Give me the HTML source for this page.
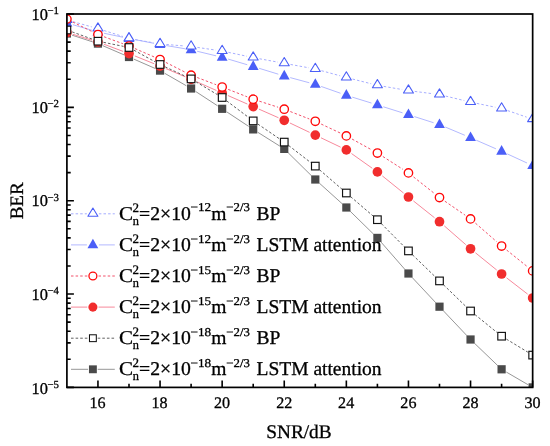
<!DOCTYPE html><html><head><meta charset="utf-8"><style>html,body{margin:0;padding:0;background:#fff;}svg{display:block;}text{text-rendering:geometricPrecision;font-family:"Liberation Serif","Times New Roman",serif;fill:#000;stroke:#000;stroke-width:0.3px;}</style></head><body>
<svg width="550" height="446" viewBox="0 0 550 446">
<rect width="550" height="446" fill="#fff"/>
<defs><clipPath id="pc"><rect x="66.9" y="14" width="465.75" height="373.4"/></clipPath></defs>
<path d="M97.95 387.4V380.6M129 387.4V383.8M160.05 387.4V380.6M191.1 387.4V383.8M222.15 387.4V380.6M253.2 387.4V383.8M284.25 387.4V380.6M315.3 387.4V383.8M346.35 387.4V380.6M377.4 387.4V383.8M408.45 387.4V380.6M439.5 387.4V383.8M470.55 387.4V380.6M501.6 387.4V383.8M532.65 387.4V380.6M66.9 79.25H70.7M66.9 62.81H70.7M66.9 51.15H70.7M66.9 42.1H70.7M66.9 34.71H70.7M66.9 28.46H70.7M66.9 23.05H70.7M66.9 18.27H70.7M66.9 172.6H70.7M66.9 156.16H70.7M66.9 144.5H70.7M66.9 135.45H70.7M66.9 128.06H70.7M66.9 121.81H70.7M66.9 116.4H70.7M66.9 111.62H70.7M66.9 265.95H70.7M66.9 249.51H70.7M66.9 237.85H70.7M66.9 228.8H70.7M66.9 221.41H70.7M66.9 215.16H70.7M66.9 209.75H70.7M66.9 204.97H70.7M66.9 359.3H70.7M66.9 342.86H70.7M66.9 331.2H70.7M66.9 322.15H70.7M66.9 314.76H70.7M66.9 308.51H70.7M66.9 303.1H70.7M66.9 298.32H70.7M66.9 14H73.9M66.9 107.35H73.9M66.9 200.7H73.9M66.9 294.05H73.9M66.9 387.4H73.9" stroke="#000" stroke-width="1.6" fill="none"/>
<g clip-path="url(#pc)">
<path d="M72.04 35.17L92.81 41.93M102.91 45.74L124.04 54.86M133.95 59.17L155.1 68.43M164.73 73.3L186.42 85.8M195.62 91.45L217.63 105.85M226.65 111.79L248.7 126.41M257.77 132.27L279.68 146.03M288.1 152.69L311.45 175.71M319.31 183.12L342.34 203.88M350.21 211.28L373.54 234.12M380.95 241.97L404.9 269.43M412.14 277.44L435.81 302.76M443.21 310.62L466.84 335.58M474.45 343.24L497.7 365.56M506.27 372.02L527.98 384.68" fill="none" stroke="#979797" stroke-width="1.0"/>
<path d="M72.92 34.34L91.93 40.16M103.85 44.2L123.1 51.4M134.84 55.95L154.21 63.75M165.85 68.56L185.3 76.84M196.86 81.84L216.39 90.46M227.92 95.53L247.43 104.07M258.96 109.14L278.49 117.76M289.94 123.01L309.61 132.39M320.99 137.81L340.66 147.19M351.49 153.54L372.26 168.26M382.3 175.86L403.55 193.04M413.38 200.92L434.57 217.78M444.25 225.84L465.8 244.66M475.44 252.77L496.71 270.03M506.58 277.85L527.67 294.15" fill="none" stroke="#f7899b" stroke-width="1.0"/>
<path d="M72.85 24.73L92 30.27M104.02 33.27L122.93 37.23M135.09 39.68L153.96 43.32M166.16 45.54L184.99 48.76M197.13 51.26L216.12 55.84M228.09 59.06L247.26 64.74M259.13 68.31L278.32 74.19M290.23 77.62L309.32 82.78M321.15 86.45L340.5 93.25M352.27 97.13L371.48 103.07M383.31 106.77L402.54 112.83M414.36 116.58L433.59 122.72M445.21 127.01L464.84 135.29M476.23 140.19L495.92 148.81M507.23 153.89L527.02 163.01" fill="none" stroke="#b3b9ff" stroke-width="1.0"/>
<path d="M73.07 21.71L91.78 26.89M104.05 30.53L122.9 36.47M135.3 39.54L153.75 42.86M166.43 44.51L184.72 45.99M197.43 47.42L215.82 50.08M228.41 52.33L246.94 56.27M259.49 58.76L277.96 62.14M290.54 64.46L309.01 67.84M321.47 70.69L340.18 75.81M352.56 79.06L371.19 83.74M383.71 86.38L402.14 89.52M414.8 91.42L433.15 93.78M445.72 96.1L464.33 100.6M476.82 103.39L495.33 107.21M507.65 110.59L526.6 117.11" fill="none" stroke="#a6adff" stroke-width="1.0" stroke-dasharray="2.5 2.1"/>
<path d="M72.72 21.99L92.13 31.61M104.05 36.76L122.9 43.74M134.96 48.59L154.09 56.91M165.85 62.43L185.3 72.27M197.18 77.51L216.07 84.69M228.2 89.38L247.15 96.82M259.39 101.19L278.06 107.21M290.31 111.56L309.24 118.94M321.18 124.07L340.47 133.13M352.04 139.04L371.71 149.86M382.87 156.51L402.98 169.39M413.54 176.94L434.41 193.46M444.85 201.19L465.2 215.21M475.45 223.17L496.7 241.73M506.67 250.07L527.58 266.83" fill="none" stroke="#f2506a" stroke-width="1.0" stroke-dasharray="2.5 2.1"/>
<path d="M72.17 31.9L92.68 39.3M103.44 42.31L123.51 46.39M133.91 50.19L155.14 61.81M165.13 66.86L186.02 76.54M195.9 81.78L217.35 94.62M226.62 100.87L248.73 117.53M257.82 124.06L279.63 138.94M288.68 145.52L310.87 162.68M319.53 169.77L342.12 189.33M350.6 196.65L373.15 216.05M381.35 223.67L404.5 246.93M412.48 254.79L435.47 277.01M443.52 284.8L466.53 307.1M474.9 314.53L497.25 332.67M506.38 339.11L527.87 352.19" fill="none" stroke="#626262" stroke-width="1.0" stroke-dasharray="2.6 2.0"/>
<rect x="62.8" y="29.4" width="8.2" height="8.2" fill="#4a4a4a"/>
<rect x="93.85" y="39.5" width="8.2" height="8.2" fill="#4a4a4a"/>
<rect x="124.9" y="52.9" width="8.2" height="8.2" fill="#4a4a4a"/>
<rect x="155.95" y="66.5" width="8.2" height="8.2" fill="#4a4a4a"/>
<rect x="187" y="84.4" width="8.2" height="8.2" fill="#4a4a4a"/>
<rect x="218.05" y="104.7" width="8.2" height="8.2" fill="#4a4a4a"/>
<rect x="249.1" y="125.3" width="8.2" height="8.2" fill="#4a4a4a"/>
<rect x="280.15" y="144.8" width="8.2" height="8.2" fill="#4a4a4a"/>
<rect x="311.2" y="175.4" width="8.2" height="8.2" fill="#4a4a4a"/>
<rect x="342.25" y="203.4" width="8.2" height="8.2" fill="#4a4a4a"/>
<rect x="373.3" y="233.8" width="8.2" height="8.2" fill="#4a4a4a"/>
<rect x="404.35" y="269.4" width="8.2" height="8.2" fill="#4a4a4a"/>
<rect x="435.4" y="302.6" width="8.2" height="8.2" fill="#4a4a4a"/>
<rect x="466.45" y="335.4" width="8.2" height="8.2" fill="#4a4a4a"/>
<rect x="497.5" y="365.2" width="8.2" height="8.2" fill="#4a4a4a"/>
<rect x="528.55" y="383.3" width="8.2" height="8.2" fill="#4a4a4a"/>
<circle cx="66.9" cy="32.5" r="4.85" fill="#f12d2d"/>
<circle cx="97.95" cy="42" r="4.85" fill="#f12d2d"/>
<circle cx="129" cy="53.6" r="4.85" fill="#f12d2d"/>
<circle cx="160.05" cy="66.1" r="4.85" fill="#f12d2d"/>
<circle cx="191.1" cy="79.3" r="4.85" fill="#f12d2d"/>
<circle cx="222.15" cy="93" r="4.85" fill="#f12d2d"/>
<circle cx="253.2" cy="106.6" r="4.85" fill="#f12d2d"/>
<circle cx="284.25" cy="120.3" r="4.85" fill="#f12d2d"/>
<circle cx="315.3" cy="135.1" r="4.85" fill="#f12d2d"/>
<circle cx="346.35" cy="149.9" r="4.85" fill="#f12d2d"/>
<circle cx="377.4" cy="171.9" r="4.85" fill="#f12d2d"/>
<circle cx="408.45" cy="197" r="4.85" fill="#f12d2d"/>
<circle cx="439.5" cy="221.7" r="4.85" fill="#f12d2d"/>
<circle cx="470.55" cy="248.8" r="4.85" fill="#f12d2d"/>
<circle cx="501.6" cy="274" r="4.85" fill="#f12d2d"/>
<circle cx="532.65" cy="298" r="4.85" fill="#f12d2d"/>
<path d="M66.9 16.8L72.3 26.4L61.5 26.4Z" fill="#4b5ff7"/>
<path d="M97.95 25.8L103.35 35.4L92.55 35.4Z" fill="#4b5ff7"/>
<path d="M129 32.3L134.4 41.9L123.6 41.9Z" fill="#4b5ff7"/>
<path d="M160.05 38.3L165.45 47.9L154.65 47.9Z" fill="#4b5ff7"/>
<path d="M191.1 43.6L196.5 53.2L185.7 53.2Z" fill="#4b5ff7"/>
<path d="M222.15 51.1L227.55 60.7L216.75 60.7Z" fill="#4b5ff7"/>
<path d="M253.2 60.3L258.6 69.9L247.8 69.9Z" fill="#4b5ff7"/>
<path d="M284.25 69.8L289.65 79.4L278.85 79.4Z" fill="#4b5ff7"/>
<path d="M315.3 78.2L320.7 87.8L309.9 87.8Z" fill="#4b5ff7"/>
<path d="M346.35 89.1L351.75 98.7L340.95 98.7Z" fill="#4b5ff7"/>
<path d="M377.4 98.7L382.8 108.3L372 108.3Z" fill="#4b5ff7"/>
<path d="M408.45 108.5L413.85 118.1L403.05 118.1Z" fill="#4b5ff7"/>
<path d="M439.5 118.4L444.9 128L434.1 128Z" fill="#4b5ff7"/>
<path d="M470.55 131.5L475.95 141.1L465.15 141.1Z" fill="#4b5ff7"/>
<path d="M501.6 145.1L507 154.7L496.2 154.7Z" fill="#4b5ff7"/>
<path d="M532.65 159.4L538.05 169L527.25 169Z" fill="#4b5ff7"/>
<path d="M66.9 14.25L71.9 22.45L61.9 22.45Z" fill="#fff" stroke="#4b5ff7" stroke-width="1.1" stroke-linejoin="round"/>
<path d="M97.95 22.85L102.95 31.05L92.95 31.05Z" fill="#fff" stroke="#4b5ff7" stroke-width="1.1" stroke-linejoin="round"/>
<path d="M129 32.65L134 40.85L124 40.85Z" fill="#fff" stroke="#4b5ff7" stroke-width="1.1" stroke-linejoin="round"/>
<path d="M160.05 38.25L165.05 46.45L155.05 46.45Z" fill="#fff" stroke="#4b5ff7" stroke-width="1.1" stroke-linejoin="round"/>
<path d="M191.1 40.75L196.1 48.95L186.1 48.95Z" fill="#fff" stroke="#4b5ff7" stroke-width="1.1" stroke-linejoin="round"/>
<path d="M222.15 45.25L227.15 53.45L217.15 53.45Z" fill="#fff" stroke="#4b5ff7" stroke-width="1.1" stroke-linejoin="round"/>
<path d="M253.2 51.85L258.2 60.05L248.2 60.05Z" fill="#fff" stroke="#4b5ff7" stroke-width="1.1" stroke-linejoin="round"/>
<path d="M284.25 57.55L289.25 65.75L279.25 65.75Z" fill="#fff" stroke="#4b5ff7" stroke-width="1.1" stroke-linejoin="round"/>
<path d="M315.3 63.25L320.3 71.45L310.3 71.45Z" fill="#fff" stroke="#4b5ff7" stroke-width="1.1" stroke-linejoin="round"/>
<path d="M346.35 71.75L351.35 79.95L341.35 79.95Z" fill="#fff" stroke="#4b5ff7" stroke-width="1.1" stroke-linejoin="round"/>
<path d="M377.4 79.55L382.4 87.75L372.4 87.75Z" fill="#fff" stroke="#4b5ff7" stroke-width="1.1" stroke-linejoin="round"/>
<path d="M408.45 84.85L413.45 93.05L403.45 93.05Z" fill="#fff" stroke="#4b5ff7" stroke-width="1.1" stroke-linejoin="round"/>
<path d="M439.5 88.85L444.5 97.05L434.5 97.05Z" fill="#fff" stroke="#4b5ff7" stroke-width="1.1" stroke-linejoin="round"/>
<path d="M470.55 96.35L475.55 104.55L465.55 104.55Z" fill="#fff" stroke="#4b5ff7" stroke-width="1.1" stroke-linejoin="round"/>
<path d="M501.6 102.75L506.6 110.95L496.6 110.95Z" fill="#fff" stroke="#4b5ff7" stroke-width="1.1" stroke-linejoin="round"/>
<path d="M532.65 113.45L537.65 121.65L527.65 121.65Z" fill="#fff" stroke="#4b5ff7" stroke-width="1.1" stroke-linejoin="round"/>
<circle cx="66.9" cy="19.1" r="4.2" fill="#fff" stroke="#ff0808" stroke-width="1.35"/>
<circle cx="97.95" cy="34.5" r="4.2" fill="#fff" stroke="#ff0808" stroke-width="1.35"/>
<circle cx="129" cy="46" r="4.2" fill="#fff" stroke="#ff0808" stroke-width="1.35"/>
<circle cx="160.05" cy="59.5" r="4.2" fill="#fff" stroke="#ff0808" stroke-width="1.35"/>
<circle cx="191.1" cy="75.2" r="4.2" fill="#fff" stroke="#ff0808" stroke-width="1.35"/>
<circle cx="222.15" cy="87" r="4.2" fill="#fff" stroke="#ff0808" stroke-width="1.35"/>
<circle cx="253.2" cy="99.2" r="4.2" fill="#fff" stroke="#ff0808" stroke-width="1.35"/>
<circle cx="284.25" cy="109.2" r="4.2" fill="#fff" stroke="#ff0808" stroke-width="1.35"/>
<circle cx="315.3" cy="121.3" r="4.2" fill="#fff" stroke="#ff0808" stroke-width="1.35"/>
<circle cx="346.35" cy="135.9" r="4.2" fill="#fff" stroke="#ff0808" stroke-width="1.35"/>
<circle cx="377.4" cy="153" r="4.2" fill="#fff" stroke="#ff0808" stroke-width="1.35"/>
<circle cx="408.45" cy="172.9" r="4.2" fill="#fff" stroke="#ff0808" stroke-width="1.35"/>
<circle cx="439.5" cy="197.5" r="4.2" fill="#fff" stroke="#ff0808" stroke-width="1.35"/>
<circle cx="470.55" cy="218.9" r="4.2" fill="#fff" stroke="#ff0808" stroke-width="1.35"/>
<circle cx="501.6" cy="246" r="4.2" fill="#fff" stroke="#ff0808" stroke-width="1.35"/>
<circle cx="532.65" cy="270.9" r="4.2" fill="#fff" stroke="#ff0808" stroke-width="1.35"/>
<rect x="63.1" y="26.2" width="7.6" height="7.6" fill="#fff" stroke="#111111" stroke-width="1.15"/>
<rect x="94.15" y="37.4" width="7.6" height="7.6" fill="#fff" stroke="#111111" stroke-width="1.15"/>
<rect x="125.2" y="43.7" width="7.6" height="7.6" fill="#fff" stroke="#111111" stroke-width="1.15"/>
<rect x="156.25" y="60.7" width="7.6" height="7.6" fill="#fff" stroke="#111111" stroke-width="1.15"/>
<rect x="187.3" y="75.1" width="7.6" height="7.6" fill="#fff" stroke="#111111" stroke-width="1.15"/>
<rect x="218.35" y="93.7" width="7.6" height="7.6" fill="#fff" stroke="#111111" stroke-width="1.15"/>
<rect x="249.4" y="117.1" width="7.6" height="7.6" fill="#fff" stroke="#111111" stroke-width="1.15"/>
<rect x="280.45" y="138.3" width="7.6" height="7.6" fill="#fff" stroke="#111111" stroke-width="1.15"/>
<rect x="311.5" y="162.3" width="7.6" height="7.6" fill="#fff" stroke="#111111" stroke-width="1.15"/>
<rect x="342.55" y="189.2" width="7.6" height="7.6" fill="#fff" stroke="#111111" stroke-width="1.15"/>
<rect x="373.6" y="215.9" width="7.6" height="7.6" fill="#fff" stroke="#111111" stroke-width="1.15"/>
<rect x="404.65" y="247.1" width="7.6" height="7.6" fill="#fff" stroke="#111111" stroke-width="1.15"/>
<rect x="435.7" y="277.1" width="7.6" height="7.6" fill="#fff" stroke="#111111" stroke-width="1.15"/>
<rect x="466.75" y="307.2" width="7.6" height="7.6" fill="#fff" stroke="#111111" stroke-width="1.15"/>
<rect x="497.8" y="332.4" width="7.6" height="7.6" fill="#fff" stroke="#111111" stroke-width="1.15"/>
<rect x="528.85" y="351.3" width="7.6" height="7.6" fill="#fff" stroke="#111111" stroke-width="1.15"/>
</g>
<rect x="66.9" y="14" width="465.75" height="373.4" fill="none" stroke="#000" stroke-width="1.7"/>
<path d="M71 213.8H86.9M98.9 213.8H114.8" stroke="#a6adff" stroke-width="1" stroke-dasharray="2.5 2.1"/>
<g transform="translate(92.9 213.8) scale(1.0) translate(-92.9 -213.8)"><path d="M92.9 208.05L97.9 216.25L87.9 216.25Z" fill="#fff" stroke="#4b5ff7" stroke-width="1.1" stroke-linejoin="round"/></g>
<path d="M71 244.9H86.9M98.9 244.9H114.8" stroke="#b3b9ff" stroke-width="1"/>
<g transform="translate(92.9 244.9) scale(1.0) translate(-92.9 -244.9)"><path d="M92.9 238.7L98.3 248.3L87.5 248.3Z" fill="#4b5ff7"/></g>
<path d="M71 276H87.3M98.5 276H114.8" stroke="#f2506a" stroke-width="1" stroke-dasharray="2.5 2.1"/>
<g transform="translate(92.9 276) scale(0.94) translate(-92.9 -276)"><circle cx="92.9" cy="276" r="4.2" fill="#fff" stroke="#ff0808" stroke-width="1.35"/></g>
<path d="M71 307.1H87.3M98.5 307.1H114.8" stroke="#f7899b" stroke-width="1"/>
<g transform="translate(92.9 307.1) scale(0.94) translate(-92.9 -307.1)"><circle cx="92.9" cy="307.1" r="4.85" fill="#f12d2d"/></g>
<path d="M71 338.2H88.1M97.7 338.2H114.8" stroke="#626262" stroke-width="1" stroke-dasharray="2.6 2.0"/>
<g transform="translate(92.9 338.2) scale(0.9) translate(-92.9 -338.2)"><rect x="89.1" y="334.4" width="7.6" height="7.6" fill="#fff" stroke="#111111" stroke-width="1.15"/></g>
<path d="M71 369.3H88.1M97.7 369.3H114.8" stroke="#979797" stroke-width="1"/>
<g transform="translate(92.9 369.3) scale(0.96) translate(-92.9 -369.3)"><rect x="88.8" y="365.2" width="8.2" height="8.2" fill="#4a4a4a"/></g>
<text transform="translate(118.99 219.9) scale(1.08 1)" font-size="19.5">C</text>
<text x="132.4" y="211.5" font-size="13">2</text>
<text transform="translate(132.66 224.9) scale(0.95 1)" font-size="13">n</text>
<text transform="translate(139.09 219.9) scale(1.01 1)" font-size="19.5">=2×10</text>
<text transform="translate(190.45 211.4) scale(1.1 1)" font-size="12">−12</text>
<text x="211.3" y="219.9" font-size="19.5">m</text>
<text transform="translate(226.37 211.4) scale(1.07 1)" font-size="12">−2/3</text>
<text x="256.5" y="219.9" font-size="19.5">BP</text>
<text transform="translate(118.99 251) scale(1.08 1)" font-size="19.5">C</text>
<text x="132.4" y="242.6" font-size="13">2</text>
<text transform="translate(132.66 256) scale(0.95 1)" font-size="13">n</text>
<text transform="translate(139.09 251) scale(1.01 1)" font-size="19.5">=2×10</text>
<text transform="translate(190.45 242.5) scale(1.1 1)" font-size="12">−12</text>
<text x="211.3" y="251" font-size="19.5">m</text>
<text transform="translate(226.37 242.5) scale(1.07 1)" font-size="12">−2/3</text>
<text x="256.5" y="251" font-size="19.5">LSTM attention</text>
<text transform="translate(118.99 282.1) scale(1.08 1)" font-size="19.5">C</text>
<text x="132.4" y="273.7" font-size="13">2</text>
<text transform="translate(132.66 287.1) scale(0.95 1)" font-size="13">n</text>
<text transform="translate(139.09 282.1) scale(1.01 1)" font-size="19.5">=2×10</text>
<text transform="translate(190.45 273.6) scale(1.1 1)" font-size="12">−15</text>
<text x="211.3" y="282.1" font-size="19.5">m</text>
<text transform="translate(226.37 273.6) scale(1.07 1)" font-size="12">−2/3</text>
<text x="256.5" y="282.1" font-size="19.5">BP</text>
<text transform="translate(118.99 313.2) scale(1.08 1)" font-size="19.5">C</text>
<text x="132.4" y="304.8" font-size="13">2</text>
<text transform="translate(132.66 318.2) scale(0.95 1)" font-size="13">n</text>
<text transform="translate(139.09 313.2) scale(1.01 1)" font-size="19.5">=2×10</text>
<text transform="translate(190.45 304.7) scale(1.1 1)" font-size="12">−15</text>
<text x="211.3" y="313.2" font-size="19.5">m</text>
<text transform="translate(226.37 304.7) scale(1.07 1)" font-size="12">−2/3</text>
<text x="256.5" y="313.2" font-size="19.5">LSTM attention</text>
<text transform="translate(118.99 344.3) scale(1.08 1)" font-size="19.5">C</text>
<text x="132.4" y="335.9" font-size="13">2</text>
<text transform="translate(132.66 349.3) scale(0.95 1)" font-size="13">n</text>
<text transform="translate(139.09 344.3) scale(1.01 1)" font-size="19.5">=2×10</text>
<text transform="translate(190.45 335.8) scale(1.1 1)" font-size="12">−18</text>
<text x="211.3" y="344.3" font-size="19.5">m</text>
<text transform="translate(226.37 335.8) scale(1.07 1)" font-size="12">−2/3</text>
<text x="256.5" y="344.3" font-size="19.5">BP</text>
<text transform="translate(118.99 375.4) scale(1.08 1)" font-size="19.5">C</text>
<text x="132.4" y="367" font-size="13">2</text>
<text transform="translate(132.66 380.4) scale(0.95 1)" font-size="13">n</text>
<text transform="translate(139.09 375.4) scale(1.01 1)" font-size="19.5">=2×10</text>
<text transform="translate(190.45 366.9) scale(1.1 1)" font-size="12">−18</text>
<text x="211.3" y="375.4" font-size="19.5">m</text>
<text transform="translate(226.37 366.9) scale(1.07 1)" font-size="12">−2/3</text>
<text x="256.5" y="375.4" font-size="19.5">LSTM attention</text>
<text x="89.45" y="407.85" font-size="16.1">16</text>
<text x="151.55" y="407.85" font-size="16.1">18</text>
<text x="214.03" y="407.85" font-size="16.1">20</text>
<text x="276.25" y="407.85" font-size="16.1">22</text>
<text x="338.1" y="407.85" font-size="16.1">24</text>
<text x="400.33" y="407.85" font-size="16.1">26</text>
<text x="462.42" y="407.85" font-size="16.1">28</text>
<text x="524.52" y="407.85" font-size="16.1">30</text>
<text x="31.6" y="19.55" font-size="16.4">10</text>
<text x="47.5" y="14.05" font-size="10.8">−1</text>
<text x="31.6" y="112.55" font-size="16.4">10</text>
<text x="47.5" y="107.05" font-size="10.8">−2</text>
<text x="31.6" y="206.25" font-size="16.4">10</text>
<text x="47.5" y="200.75" font-size="10.8">−3</text>
<text x="31.6" y="299.75" font-size="16.4">10</text>
<text x="47.5" y="294.25" font-size="10.8">−4</text>
<text x="31.6" y="393.55" font-size="16.4">10</text>
<text x="47.5" y="388.05" font-size="10.8">−5</text>
<text x="266.25" y="438.4" font-size="19.3">SNR/dB</text>
<text transform="translate(23.0 200.9) rotate(-90)" font-size="19" text-anchor="middle">BER</text>
</svg></body></html>
